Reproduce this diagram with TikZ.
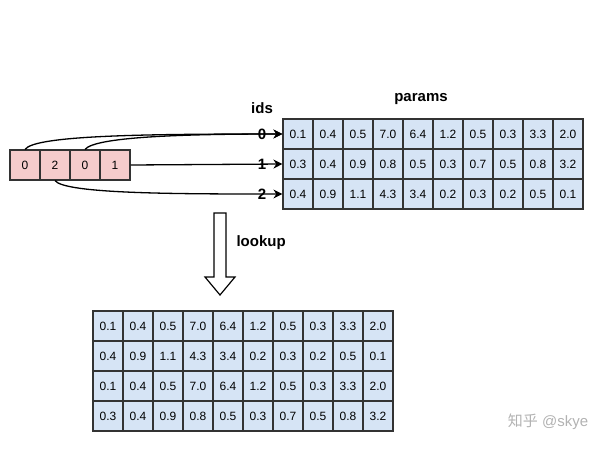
\documentclass[tikz,border=0pt]{standalone}
\usepackage{fontspec}
\setmainfont{Liberation Sans}
\newfontfamily\cjk{Noto Sans CJK SC}
\usetikzlibrary{arrows.meta}
\definecolor{cblue}{HTML}{D6E4F5}
\definecolor{cred}{HTML}{F5CCCC}
\definecolor{cedge}{HTML}{333333}
\begin{document}
\begin{tikzpicture}[x=1pt,y=-1pt,
  cell/.style={draw=cedge,line width=1.2pt,fill=cblue,minimum width=30pt,minimum height=30pt,inner sep=0pt,font=\fontsize{12}{13}\selectfont},
  rcell/.style={cell,fill=cred},
  lbl/.style={font=\bfseries\fontsize{15}{17}\selectfont},
  conn/.style={line width=1.3pt,-{Stealth[length=9pt,width=9pt]}}]
\useasboundingbox (0,0) rectangle (604,450);
\def\rowA{0.1,0.4,0.5,7.0,6.4,1.2,0.5,0.3,3.3,2.0}
\def\rowB{0.3,0.4,0.9,0.8,0.5,0.3,0.7,0.5,0.8,3.2}
\def\rowC{0.4,0.9,1.1,4.3,3.4,0.2,0.3,0.2,0.5,0.1}
% params
\foreach \v [count=\i] in \rowA {\node[cell] (pa\i) at (268+30*\i,134) {\v};}
\foreach \v [count=\i] in \rowB {\node[cell] (pb\i) at (268+30*\i,164) {\v};}
\foreach \v [count=\i] in \rowC {\node[cell] (pc\i) at (268+30*\i,194) {\v};}
% result
\foreach \v [count=\i] in \rowA {\node[cell] (ra\i) at (78+30*\i,326) {\v};}
\foreach \v [count=\i] in \rowC {\node[cell] (rb\i) at (78+30*\i,356) {\v};}
\foreach \v [count=\i] in \rowA {\node[cell] (rc\i) at (78+30*\i,386) {\v};}
\foreach \v [count=\i] in \rowB {\node[cell] (rd\i) at (78+30*\i,416) {\v};}
% ids
\foreach \v [count=\i] in {0,2,0,1} {\node[rcell] (id\i) at (-5+30*\i,165) {\v};}
\node[lbl] (ids) at (262,108) {ids};
\node[lbl] (params) at (421,99) {params};
\node[lbl] (n0) at (262,134) {0};
\node[lbl] (n1) at (262,164) {1};
\node[lbl] (n2) at (262,194) {2};
\draw[conn] (id1.north) .. controls (35,135) and (150,134) .. (pa1.west);
\draw[conn] (id3.north) .. controls (95,137) and (180,134) .. (pa1.west);
\draw[conn] (id4.east) -- (pb1.west);
\draw[conn] (id2.south) .. controls (65,194) and (180,194) .. (pc1.west);
% hollow arrow
\draw[line width=1.2pt,fill=white,line join=miter] (214,213) -- (226,213) -- (226,277) -- (235,277) -- (220,295) -- (205,277) -- (214,277) -- cycle;
\node[lbl,anchor=west] (lookup) at (233,243) {lookup};
\node[text=gray!60,font=\fontsize{15}{17}\selectfont] (wm) at (548,422) {{\cjk 知乎} @skye};
\end{tikzpicture}
\end{document}
